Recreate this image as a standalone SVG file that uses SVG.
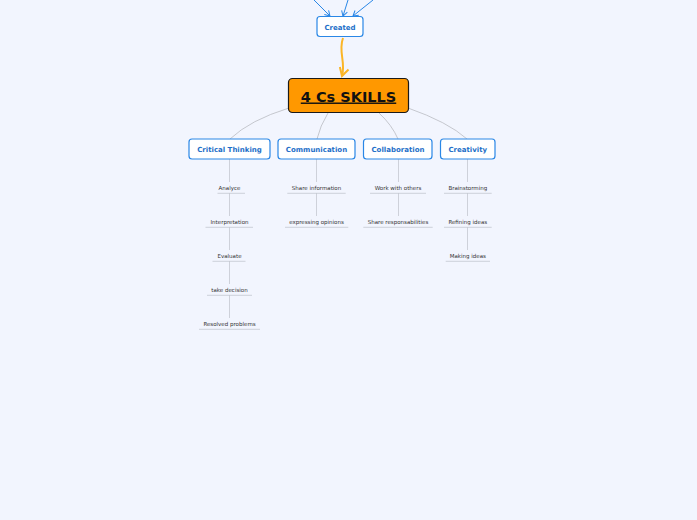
<svg xmlns="http://www.w3.org/2000/svg" width="697" height="520" viewBox="0 0 697 520">
<defs>
<style>
.bg{fill:#F2F5FE}
.box{fill:#FFFFFF;stroke:#2A87E6;stroke-width:1.2}
.btxt{font-family:"DejaVu Sans",sans-serif;font-weight:bold;font-size:7px;fill:#1E6FC8;text-anchor:middle}
.sub{font-family:"DejaVu Sans",sans-serif;font-size:5.5px;fill:#333333;text-anchor:middle}
.ul{stroke:#C4C8D0;stroke-width:0.8}
.conn{fill:none;stroke:#C0C2C8;stroke-width:0.9}
.vl{stroke:#C4C8D0;stroke-width:0.8}
.blue{fill:none;stroke:#2A87E6;stroke-width:1}
</style>
<marker id="ba" markerWidth="8" markerHeight="8" refX="6" refY="4" orient="auto" markerUnits="userSpaceOnUse">
<path d="M1,1 L6,4 L1,7" fill="none" stroke="#2A87E6" stroke-width="1"/>
</marker>
<marker id="oa" markerWidth="12" markerHeight="12" refX="9" refY="6" orient="auto" markerUnits="userSpaceOnUse">
<path d="M1,1.5 L9,6 L1,10.5" fill="none" stroke="#FBB526" stroke-width="2"/>
</marker>
</defs>
<rect class="bg" x="0" y="0" width="697" height="520"/>
<g id="connectors">
<line class="blue" x1="314" y1="0" x2="330" y2="16" marker-end="url(#ba)"/>
<line class="blue" x1="348" y1="0" x2="343" y2="16" marker-end="url(#ba)"/>
<line class="blue" x1="373" y1="0" x2="353" y2="16" marker-end="url(#ba)"/>
<path d="M343,38 C338,52 346,62 342,76" fill="none" stroke="#FBB526" stroke-width="2" marker-end="url(#oa)"/>
<path class="conn" d="M289,108 Q250,120 230,139"/>
<path class="conn" d="M328,113 Q320,126 317,139"/>
<path class="conn" d="M379,113 Q392,125 398,139"/>
<path class="conn" d="M408,108 Q448,122 467,139"/>
<line class="vl" x1="229.5" y1="159" x2="229.5" y2="182"/>
<line class="vl" x1="229.5" y1="193" x2="229.5" y2="216"/>
<line class="vl" x1="229.5" y1="227" x2="229.5" y2="250"/>
<line class="vl" x1="229.5" y1="261" x2="229.5" y2="284"/>
<line class="vl" x1="229.5" y1="295" x2="229.5" y2="318"/>
<line class="vl" x1="316.5" y1="159" x2="316.5" y2="182"/>
<line class="vl" x1="316.5" y1="193" x2="316.5" y2="216"/>
<line class="vl" x1="398.5" y1="159" x2="398.5" y2="182"/>
<line class="vl" x1="398.5" y1="193" x2="398.5" y2="216"/>
<line class="vl" x1="467.5" y1="159" x2="467.5" y2="182"/>
<line class="vl" x1="467.5" y1="193" x2="467.5" y2="216"/>
<line class="vl" x1="467.5" y1="227" x2="467.5" y2="250"/>
</g>
<g id="created">
<rect class="box" x="317" y="16.5" width="46" height="20" rx="3"/>
<text class="btxt" x="340" y="29.5">Created</text>
</g>
<g id="main">
<rect x="288.5" y="78.5" width="120" height="34" rx="4" fill="#FF9800" stroke="#1A1A1A" stroke-width="1.2"/>
<text x="348.5" y="101.5" font-family="Verdana,'DejaVu Sans',sans-serif" font-weight="bold" font-size="14.5px" fill="#111111" text-anchor="middle" text-decoration="underline">4 Cs SKILLS</text>
</g>
<g id="critical">
<rect class="box" x="189" y="139" width="81" height="20" rx="3"/>
<text class="btxt" x="229.5" y="151.5">Critical Thinking</text>
</g>
<g id="communication">
<rect class="box" x="278" y="139" width="77" height="20" rx="3"/>
<text class="btxt" x="316.5" y="151.5">Communication</text>
</g>
<g id="collaboration">
<rect class="box" x="363.5" y="139" width="68.5" height="20" rx="3"/>
<text class="btxt" x="398" y="151.5">Collaboration</text>
</g>
<g id="creativity">
<rect class="box" x="440.5" y="139" width="54.5" height="20" rx="3"/>
<text class="btxt" x="467.8" y="151.5">Creativity</text>
</g>
<g id="analyce"><text class="sub" x="229.5" y="189.5">Analyce</text><line class="ul" x1="217.5" y1="193.3" x2="245" y2="193.3"/></g>
<g id="interpretation"><text class="sub" x="229.5" y="223.5">Interpretation</text><line class="ul" x1="205.5" y1="227.3" x2="253" y2="227.3"/></g>
<g id="evaluate"><text class="sub" x="229.5" y="257.5">Evaluate</text><line class="ul" x1="212.5" y1="261.3" x2="245.5" y2="261.3"/></g>
<g id="takedecision"><text class="sub" x="229.5" y="291.5">take decision</text><line class="ul" x1="207" y1="295.3" x2="252" y2="295.3"/></g>
<g id="resolved"><text class="sub" x="229.5" y="325.5">Resolved problems</text><line class="ul" x1="199" y1="329.3" x2="260" y2="329.3"/></g>
<g id="shareinfo"><text class="sub" x="316.5" y="189.5">Share information</text><line class="ul" x1="287.3" y1="193.3" x2="345.7" y2="193.3"/></g>
<g id="expressing"><text class="sub" x="316.5" y="223.5">expressing opinions</text><line class="ul" x1="285" y1="227.3" x2="348.3" y2="227.3"/></g>
<g id="workothers"><text class="sub" x="398" y="189.5">Work with others</text><line class="ul" x1="370" y1="193.3" x2="426" y2="193.3"/></g>
<g id="shareresp"><text class="sub" x="398" y="223.5">Share responsabilities</text><line class="ul" x1="363.3" y1="227.3" x2="432.7" y2="227.3"/></g>
<g id="brainstorming"><text class="sub" x="467.8" y="189.5">Brainstorming</text><line class="ul" x1="444" y1="193.3" x2="491.7" y2="193.3"/></g>
<g id="refining"><text class="sub" x="467.8" y="223.5">Refining ideas</text><line class="ul" x1="444" y1="227.3" x2="491.7" y2="227.3"/></g>
<g id="making"><text class="sub" x="467.8" y="257.5">Making ideas</text><line class="ul" x1="445.7" y1="261.3" x2="490" y2="261.3"/></g>
</svg>
